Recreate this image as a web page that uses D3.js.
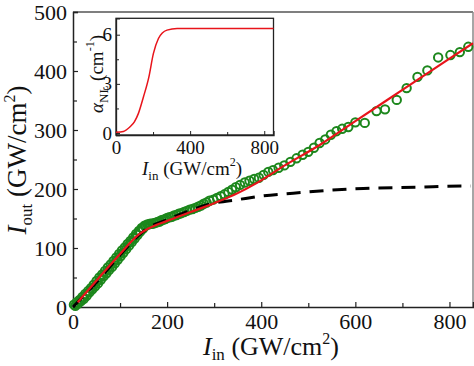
<!DOCTYPE html>
<html>
<head>
<meta charset="utf-8">
<script src="https://cdn.jsdelivr.net/npm/d3@7"></script>
<style>
  body { margin: 0; background: #fff; }
</style>
</head>
<body>
<div id="chart"></div>
<script>
// measured points (I_in, I_out)
var measured = [
  [2,4],[5,2],[8,8],[11,6],[14,12],[17,10],[20,17],[23,14],[26,22],[29,19],[32,27],[35,25],
  [38,32],[41,30],[44,38],[47,35],[50,44],[53,40],[56,50],[59,46],[62,55],[65,52],[68,61],
  [71,57],[74,67],[77,63],[80,72],[83,68],[86,78],[89,74],[92,84],[95,80],[98,90],[101,86],
  [104,96],[107,92],[110,101],[113,98],[116,107],[119,104],[122,112],[125,110],[128,118],
  [131,116],[134,124],[137,122],[140,129],[143,128],[146,134],[149,133],[152,138],[155,138],
  [158,140],[161,140],[164,141],[168,141],[172,142],[176,143],[180,144],[184,145],[188,147],
  [192,148],[196,149],[200,151],[205,152],[210,153],[215,155],[220,156],[225,158],[230,159],
  [236,161],[242,163],[248,165],[254,166],[260,168],[266,170],[272,172],[278,175],[284,177],
  [290,180],[298,182],[306,185],[314,188],[322,191],[330,195],[338,199],[346,203],[355,207],
  [365,211],[375,214],[385,217],[395,219],[405,224],[415,229],[425,232],[437,236],[449,240],
  [462,246],[475,252],[488,258],[500,263],[512,270],[524,278],[536,284],[548,292],[560,298],
  [572,302],[585,305],[600,313],[620,312],[645,332],[663,335],[688,351],[709,371],[732,390],
  [753,401],[776,423],[802,427],[822,432],[840,441]
];
// red fit
var fitRed = [
  [10,8],[50,45],[100,90],[140,123],[160,133],[200,146],[250,161],[300,176],[350,193],
  [390,210],[450,240],[525,275],[600,315],[700,368],[800,421],[850,447]
];
// black dashed curve
var fitDashed = [
  [0,0],[50,42],[100,88],[140,122],[160,134],[200,148],[250,164],[300,176],[350,182],
  [400,188],[468,193],[617,201],[729,203],[829,205],[845,205]
];
// inset: alpha_NL vs I_in
var alphaCurve = [
  [0,0.05],[40,0.1],[76,0.38],[100,0.7],[121,1.2],[148,2.2],[177,3.4],[202,4.86],
  [229,5.77],[250,6.1],[275,6.28],[330,6.38],[850,6.38]
];
var xTicks = [0, 200, 400, 600, 800];
var xMinor = [100, 300, 500, 700];
var yTicks = [0, 100, 200, 300, 400, 500];
var yMinor = [50, 150, 250, 350, 450];
var insetXTicks = [0, 400, 800];
var insetXMinor = [200, 600];
var insetYTicks = [0, 3, 6];
var insetYMinor = [1.5, 4.5];

var serif = "'Liberation Serif'";
var svgWidth = 474, svgHeight = 366;
var svg = d3.select("#chart").append("svg")
  .attr("width", svgWidth)
  .attr("height", svgHeight);

// main scales
var x = d3.scaleLinear().domain([0, 850]).range([73, 473]);
var y = d3.scaleLinear().domain([0, 500]).range([307, 12]);

// frame
svg.append("line").attr("x1", 73).attr("x2", 473).attr("y1", 12).attr("y2", 12)
  .attr("stroke", "#555").attr("stroke-width", 1.3);
svg.append("line").attr("x1", 473).attr("x2", 473).attr("y1", 12).attr("y2", 307)
  .attr("stroke", "#888").attr("stroke-width", 1.5);

// axes with inward ticks
var xAxis = svg.append("g").attr("transform", "translate(0,307)")
  .call(d3.axisBottom(x).tickValues(xTicks).tickSize(-5).tickPadding(6));
svg.append("g").attr("transform", "translate(0,307)")
  .call(d3.axisBottom(x).tickValues(xMinor).tickSize(-4).tickFormat(""))
  .select(".domain").remove();
var yAxis = svg.append("g").attr("transform", "translate(73,0)")
  .call(d3.axisLeft(y).tickValues(yTicks).tickSize(-5).tickPadding(6));
svg.append("g").attr("transform", "translate(73,0)")
  .call(d3.axisLeft(y).tickValues(yMinor).tickSize(-4).tickFormat(""))
  .select(".domain").remove();

svg.selectAll(".tick line").attr("stroke", "#222").attr("stroke-width", 1.2);
svg.selectAll(".domain").attr("stroke", "#222").attr("stroke-width", 1.5);
xAxis.selectAll("text").attr("font-size", "22px");
yAxis.selectAll("text").attr("font-size", "22px");

// data
var lineGen = d3.line().x(d => x(d[0])).y(d => y(d[1])).curve(d3.curveMonotoneX);

svg.append("g").selectAll("circle")
  .data(measured)
  .enter()
  .append("circle")
  .attr("cx", d => x(d[0]))
  .attr("cy", d => y(d[1]))
  .attr("r", 4.2)
  .attr("fill", "none")
  .attr("stroke", "#1c871c")
  .attr("stroke-width", 2);

svg.append("path").datum(fitDashed)
  .attr("d", lineGen)
  .attr("fill", "none")
  .attr("stroke", "#000")
  .attr("stroke-width", 3)
  .attr("stroke-dasharray", "14,9");

svg.append("path").datum(fitRed)
  .attr("d", lineGen)
  .attr("fill", "none")
  .attr("stroke", "#e8141b")
  .attr("stroke-width", 2.2);

// axis labels
var xl = svg.append("text")
  .attr("x", 271).attr("y", 355)
  .attr("text-anchor", "middle")
  .attr("font-size", "26px");
xl.append("tspan").attr("font-style", "italic").text("I");
xl.append("tspan").attr("font-size", "17px").attr("dy", 5).text("in");
xl.append("tspan").attr("dy", -5).text(" (GW/cm");
xl.append("tspan").attr("font-size", "16px").attr("dy", -11).text("2");
xl.append("tspan").attr("dy", 11).text(")");

var yl = svg.append("text")
  .attr("transform", "translate(26,160) rotate(-90)")
  .attr("text-anchor", "middle")
  .attr("font-size", "27px");
yl.append("tspan").attr("font-style", "italic").text("I");
yl.append("tspan").attr("font-size", "17px").attr("dy", 6).text("out");
yl.append("tspan").attr("dy", -6).text(" (GW/cm");
yl.append("tspan").attr("font-size", "16px").attr("dy", -11).text("2");
yl.append("tspan").attr("dy", 11).text(")");

// inset
var ix = d3.scaleLinear().domain([0, 850]).range([116, 273.5]);
var iy = d3.scaleLinear().domain([-0.12, 7]).range([135, 18.3]);

var inset = svg.append("g");
inset.append("rect")
  .attr("x", 116).attr("y", 18.3)
  .attr("width", 157.5).attr("height", 116.7)
  .attr("fill", "#fff")
  .attr("stroke", "#222")
  .attr("stroke-width", 1.3);

var ixAxis = inset.append("g").attr("transform", "translate(0,135)")
  .call(d3.axisBottom(ix).tickValues(insetXTicks).tickSize(-4).tickPadding(6));
inset.append("g").attr("transform", "translate(0,135)")
  .call(d3.axisBottom(ix).tickValues(insetXMinor).tickSize(-3).tickFormat(""))
  .select(".domain").remove();
var iyAxis = inset.append("g").attr("transform", "translate(116,0)")
  .call(d3.axisLeft(iy).tickValues(insetYTicks).tickSize(-4).tickPadding(4));
inset.append("g").attr("transform", "translate(116,0)")
  .call(d3.axisLeft(iy).tickValues(insetYMinor).tickSize(-3).tickFormat(""))
  .select(".domain").remove();
inset.selectAll(".tick line").attr("stroke", "#222").attr("stroke-width", 1);
inset.selectAll(".domain").attr("stroke", "#222").attr("stroke-width", 1.3);
ixAxis.selectAll("text").attr("font-size", "19px");
iyAxis.selectAll("text").attr("font-size", "19px");

var ilineGen = d3.line().x(d => ix(d[0])).y(d => iy(d[1])).curve(d3.curveMonotoneX);
inset.append("path").datum(alphaCurve)
  .attr("d", ilineGen)
  .attr("fill", "none")
  .attr("stroke", "#e8141b")
  .attr("stroke-width", 1.5);

var ixl = inset.append("text")
  .attr("x", 192).attr("y", 175)
  .attr("text-anchor", "middle")
  .attr("font-size", "19px");
ixl.append("tspan").attr("font-style", "italic").text("I");
ixl.append("tspan").attr("font-size", "13px").attr("dy", 5).text("in");
ixl.append("tspan").attr("dy", -5).text(" (GW/cm");
ixl.append("tspan").attr("font-size", "12px").attr("dy", -9).text("2");
ixl.append("tspan").attr("dy", 9).text(")");

var iyl = inset.append("text")
  .attr("transform", "translate(103,74) rotate(-90)")
  .attr("text-anchor", "middle")
  .attr("font-size", "19px");
iyl.append("tspan").attr("font-style", "italic").text("α");
iyl.append("tspan").attr("font-size", "13px").attr("dy", 5).text("NL");
iyl.append("tspan").attr("dy", -5).text(" (cm");
iyl.append("tspan").attr("font-size", "12px").attr("dy", -9).text("-1");
iyl.append("tspan").attr("dy", 9).text(")");

// serif everywhere
svg.selectAll("g").attr("font-family", null);
svg.selectAll("text").style("font-family", serif).style("fill", "#111");
svg.selectAll("tspan").style("font-family", serif);
</script>
</body>
</html>
